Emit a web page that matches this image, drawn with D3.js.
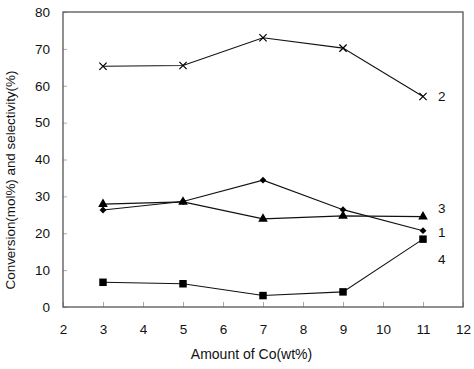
<!DOCTYPE html>
<html><head><meta charset="utf-8">
<script src="https://cdn.jsdelivr.net/npm/d3@7"></script>
<style>body{margin:0;background:#fff}svg{display:block}text{font-family:"Liberation Sans",Arial,sans-serif;fill:#111}</style>
</head><body>
<svg id="c" width="474" height="369"></svg>
<script>
const cobalt = [3, 5, 7, 9, 11];
const s1 = [26.3, 28.6, 34.4, 26.4, 20.7];   // diamond
const s2 = [65.3, 65.5, 73.0, 70.2, 57.1];   // cross
const s3 = [27.9, 28.5, 23.9, 24.7, 24.5];   // triangle
const s4 = [6.7, 6.3, 3.1, 4.1, 18.4];       // square
const xTicks = [2,3,4,5,6,7,8,9,10,11,12];
const yTicks = [0,10,20,30,40,50,60,70,80];
const seriesNames = ["1","2","3","4"];

const svg = d3.select("#c");
const L = 63, R = 463, T = 12, B = 307;
const x = d3.scaleLinear().domain([2,12]).range([L,R]);
const y = d3.scaleLinear().domain([0,80]).range([B,T]);

// y axis
const ya = svg.append("g").attr("transform",`translate(${L},0)`)
  .call(d3.axisLeft(y).tickValues(yTicks).tickSize(-4).tickPadding(13).tickFormat(d3.format("d")));
ya.select(".domain").remove();
ya.selectAll("line").attr("stroke","#aaa");
ya.selectAll("text").style("font-size","13.5px").attr("fill","#111");

// x axis
const xa = svg.append("g").attr("transform",`translate(0,${B})`)
  .call(d3.axisBottom(x).tickValues(xTicks).tickSize(-5).tickPadding(17).tickFormat(d3.format("d")));
xa.select(".domain").remove();
xa.selectAll("line").attr("stroke","#aaa");
xa.selectAll("text").style("font-size","13.5px").attr("fill","#111");

// frame
svg.append("rect").attr("x",L).attr("y",T).attr("width",R-L).attr("height",B-T)
  .attr("fill","none").attr("stroke","#555").attr("stroke-width",1.3);

// labels
svg.append("text").attr("x",251.5).attr("y",359).attr("text-anchor","middle")
  .style("font-size","14px").text("Amount of Co(wt%)");
svg.append("text").attr("transform",`translate(15,180) rotate(-90)`).attr("text-anchor","middle")
  .style("font-size","13.4px").text("Conversion(mol%) and selectivity(%)");

const line = d3.line().x((d,i)=>x(cobalt[i])).y(d=>y(d));
const all = [s1,s2,s3,s4];
all.forEach(s=>{
  svg.append("path").datum(s).attr("d",line).attr("fill","none").attr("stroke","#111").attr("stroke-width",1.1);
});

// markers
const g = svg.append("g");
g.selectAll(".dm").data(s1).enter().append("path")
  .attr("d",d3.symbol().type(d3.symbolDiamond2).size(30))
  .attr("transform",(d,i)=>`translate(${x(cobalt[i])},${y(d)})`).attr("fill","#000");
g.selectAll(".cr").data(s2).enter().append("path")
  .attr("d",d3.symbol().type(d3.symbolX).size(36))
  .attr("transform",(d,i)=>`translate(${x(cobalt[i])},${y(d)})`).attr("fill","none").attr("stroke","#000").attr("stroke-width",1.2);
g.selectAll(".tr").data(s3).enter().append("path")
  .attr("d",d3.symbol().type(d3.symbolTriangle).size(40))
  .attr("transform",(d,i)=>`translate(${x(cobalt[i])},${y(d)})`).attr("fill","#000");
g.selectAll(".sq").data(s4).enter().append("path")
  .attr("d",d3.symbol().type(d3.symbolSquare).size(56))
  .attr("transform",(d,i)=>`translate(${x(cobalt[i])},${y(d)})`).attr("fill","#000");

// series labels (offsets in data units from the last point)
const labOffset = [-0.4, 0.1, 2.2, -5.5];
const lastVals = [s1[4], s2[4], s3[4], s4[4]];
seriesNames.forEach((t,k)=>{
  svg.append("text").attr("x",x(11)+15).attr("y",y(lastVals[k]+labOffset[k])).attr("dy","0.35em")
    .style("font-size","13.5px").attr("fill","#000").text(t);
});
</script>
</body></html>
